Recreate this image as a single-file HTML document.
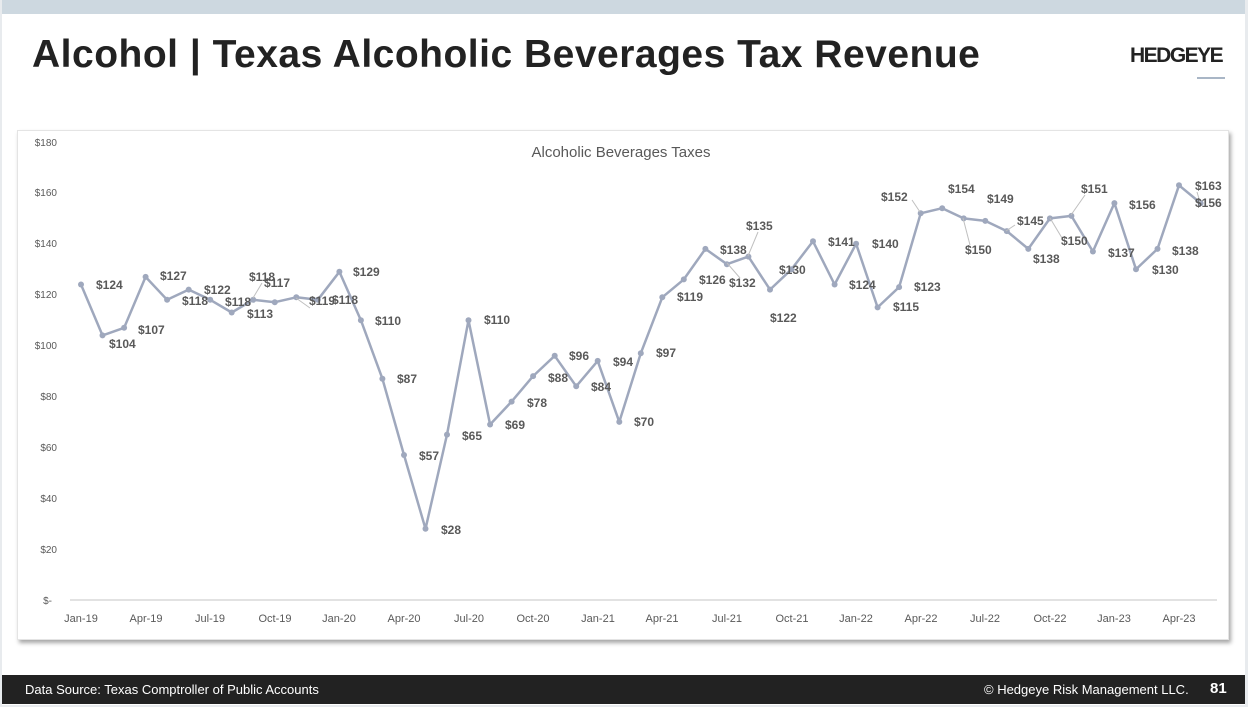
<!DOCTYPE html>
<html><head><meta charset="utf-8"><style>
body{margin:0;width:1248px;height:707px;background:#e8ebee;overflow:hidden;font-family:"Liberation Sans",sans-serif}
.page{position:absolute;left:2px;top:0;width:1243px;height:705px;background:#fff}
.topbar{position:absolute;left:2px;top:0;width:1243px;height:14px;background:#cdd8e0}
h1{position:absolute;left:32px;top:33px;margin:0;font-size:39px;font-weight:bold;color:#222;letter-spacing:0.5px}
.logo{position:absolute;left:1130px;top:44px;font-size:21px;font-weight:bold;color:#222;letter-spacing:-1.5px}
.logoline{position:absolute;left:1197px;top:77px;width:28px;height:2px;background:#a9b6c6}
.chart{position:absolute;left:17px;top:130px;width:1210px;height:508px;background:#fff;box-shadow:2px 3px 4px rgba(0,0,0,0.35);border:1px solid #e4e4e4}
.footer{position:absolute;left:2px;top:675px;width:1243px;height:29px;background:#222;color:#fff;font-size:13px}
</style></head><body>
<div class="page"></div><div class="topbar"></div>
<h1>Alcohol | Texas Alcoholic Beverages Tax Revenue</h1>
<div class="logo">HEDGEYE</div><div class="logoline"></div>
<div class="chart"></div>
<svg style="position:absolute;left:0;top:0" width="1248" height="707" font-family="Liberation Sans, sans-serif">
<text x="621" y="157" font-size="15" fill="#595959" text-anchor="middle">Alcoholic Beverages Taxes</text>
<g font-size="10" fill="#595959" text-anchor="end">
<text x="57" y="146">$180</text><text x="57" y="196">$160</text><text x="57" y="247">$140</text><text x="57" y="298">$120</text><text x="57" y="349">$100</text><text x="57" y="400">$80</text><text x="57" y="451">$60</text><text x="57" y="502">$40</text><text x="57" y="553">$20</text><text x="52" y="604">$-</text>
</g>
<line x1="70" y1="600" x2="1217" y2="600" stroke="#d9d9d9" stroke-width="1.5"/>
<g font-size="11" fill="#595959" text-anchor="middle">
<text x="81" y="622">Jan-19</text><text x="146" y="622">Apr-19</text><text x="210" y="622">Jul-19</text><text x="275" y="622">Oct-19</text><text x="339" y="622">Jan-20</text><text x="404" y="622">Apr-20</text><text x="469" y="622">Jul-20</text><text x="533" y="622">Oct-20</text><text x="598" y="622">Jan-21</text><text x="662" y="622">Apr-21</text><text x="727" y="622">Jul-21</text><text x="792" y="622">Oct-21</text><text x="856" y="622">Jan-22</text><text x="921" y="622">Apr-22</text><text x="985" y="622">Jul-22</text><text x="1050" y="622">Oct-22</text><text x="1114" y="622">Jan-23</text><text x="1179" y="622">Apr-23</text>
</g>
<polyline fill="none" stroke="#9fa8bd" stroke-width="2.5" stroke-linejoin="round" points="81,284.5 102.5,335.4 124.1,327.8 145.6,276.9 167.1,299.8 188.7,289.6 210.2,299.8 231.7,312.5 253.2,299.8 274.8,302.2 296.3,297.3 317.8,299.8 339.4,271.8 360.9,320.2 382.4,378.7 404,455 425.5,528.8 447,434.6 468.5,320.2 490.1,424.5 511.6,401.6 533.1,376.1 554.7,355.8 576.2,386.3 597.7,360.9 619.3,421.9 640.8,353.2 662.3,297.3 683.8,279.4 705.4,248.9 726.9,264.2 748.4,256.6 770,289.6 791.5,269.3 813,241.3 834.6,284.5 856.1,243.8 877.6,307.4 899.1,287.1 920.7,213.3 942.2,208.2 963.7,218.4 985.3,220.9 1006.8,231.1 1028.3,248.9 1049.9,218.4 1071.4,215.9 1092.9,251.5 1114.4,203.1 1136,269.3 1157.5,248.9 1179,185.3 1200.6,203.1"/>
<g fill="#9fa8bd">
<circle cx="81" cy="284.5" r="3"/><circle cx="102.5" cy="335.4" r="3"/><circle cx="124.1" cy="327.8" r="3"/><circle cx="145.6" cy="276.9" r="3"/><circle cx="167.1" cy="299.8" r="3"/><circle cx="188.7" cy="289.6" r="3"/><circle cx="210.2" cy="299.8" r="3"/><circle cx="231.7" cy="312.5" r="3"/><circle cx="253.2" cy="299.8" r="3"/><circle cx="274.8" cy="302.2" r="3"/><circle cx="296.3" cy="297.3" r="3"/><circle cx="317.8" cy="299.8" r="3"/><circle cx="339.4" cy="271.8" r="3"/><circle cx="360.9" cy="320.2" r="3"/><circle cx="382.4" cy="378.7" r="3"/><circle cx="404" cy="455" r="3"/><circle cx="425.5" cy="528.8" r="3"/><circle cx="447" cy="434.6" r="3"/><circle cx="468.5" cy="320.2" r="3"/><circle cx="490.1" cy="424.5" r="3"/><circle cx="511.6" cy="401.6" r="3"/><circle cx="533.1" cy="376.1" r="3"/><circle cx="554.7" cy="355.8" r="3"/><circle cx="576.2" cy="386.3" r="3"/><circle cx="597.7" cy="360.9" r="3"/><circle cx="619.3" cy="421.9" r="3"/><circle cx="640.8" cy="353.2" r="3"/><circle cx="662.3" cy="297.3" r="3"/><circle cx="683.8" cy="279.4" r="3"/><circle cx="705.4" cy="248.9" r="3"/><circle cx="726.9" cy="264.2" r="3"/><circle cx="748.4" cy="256.6" r="3"/><circle cx="770" cy="289.6" r="3"/><circle cx="791.5" cy="269.3" r="3"/><circle cx="813" cy="241.3" r="3"/><circle cx="834.6" cy="284.5" r="3"/><circle cx="856.1" cy="243.8" r="3"/><circle cx="877.6" cy="307.4" r="3"/><circle cx="899.1" cy="287.1" r="3"/><circle cx="920.7" cy="213.3" r="3"/><circle cx="942.2" cy="208.2" r="3"/><circle cx="963.7" cy="218.4" r="3"/><circle cx="985.3" cy="220.9" r="3"/><circle cx="1006.8" cy="231.1" r="3"/><circle cx="1028.3" cy="248.9" r="3"/><circle cx="1049.9" cy="218.4" r="3"/><circle cx="1071.4" cy="215.9" r="3"/><circle cx="1092.9" cy="251.5" r="3"/><circle cx="1114.4" cy="203.1" r="3"/><circle cx="1136" cy="269.3" r="3"/><circle cx="1157.5" cy="248.9" r="3"/><circle cx="1179" cy="185.3" r="3"/><circle cx="1200.6" cy="203.1" r="3"/>
</g>
<g stroke="#bfbfbf" stroke-width="1">
<line x1="253" y1="298" x2="262" y2="283"/><line x1="296" y1="298" x2="310" y2="308"/><line x1="727" y1="263" x2="740" y2="278"/><line x1="748" y1="256" x2="758" y2="232"/><line x1="920" y1="212" x2="912" y2="200"/><line x1="1050" y1="218" x2="1062" y2="238"/><line x1="1071" y1="215" x2="1085" y2="195"/><line x1="1006" y1="231" x2="1015" y2="225"/><line x1="963" y1="218" x2="970" y2="245"/><line x1="1200" y1="202" x2="1197" y2="192"/>
</g>
<g font-size="12" font-weight="bold" fill="#595959" dominant-baseline="middle">
<text x="96" y="286">$124</text><text x="109" y="345">$104</text><text x="138" y="331">$107</text><text x="160" y="277">$127</text><text x="182" y="302">$118</text><text x="204" y="291">$122</text><text x="225" y="303">$118</text><text x="247" y="315">$113</text><text x="249" y="278">$118</text><text x="264" y="284">$117</text><text x="309" y="302">$119</text><text x="332" y="301">$118</text><text x="353" y="273">$129</text><text x="375" y="322">$110</text><text x="397" y="380">$87</text><text x="419" y="457">$57</text><text x="441" y="531">$28</text><text x="462" y="437">$65</text><text x="484" y="321">$110</text><text x="505" y="426">$69</text><text x="527" y="404">$78</text><text x="548" y="379">$88</text><text x="569" y="357">$96</text><text x="591" y="388">$84</text><text x="613" y="363">$94</text><text x="634" y="423">$70</text><text x="656" y="354">$97</text><text x="677" y="298">$119</text><text x="699" y="281">$126</text><text x="720" y="251">$138</text><text x="729" y="284">$132</text><text x="746" y="227">$135</text><text x="770" y="319">$122</text><text x="779" y="271">$130</text><text x="828" y="243">$141</text><text x="849" y="286">$124</text><text x="872" y="245">$140</text><text x="893" y="308">$115</text><text x="914" y="288">$123</text><text x="881" y="198">$152</text><text x="948" y="190">$154</text><text x="965" y="251">$150</text><text x="987" y="200">$149</text><text x="1017" y="222">$145</text><text x="1033" y="260">$138</text><text x="1061" y="242">$150</text><text x="1081" y="190">$151</text><text x="1108" y="254">$137</text><text x="1129" y="206">$156</text><text x="1152" y="271">$130</text><text x="1172" y="252">$138</text><text x="1195" y="187">$163</text><text x="1195" y="204">$156</text>
</g>
</svg>
<div class="footer"><span style="position:absolute;left:23px;top:7px">Data Source: Texas Comptroller of Public Accounts</span><span style="position:absolute;left:982px;top:7px">© Hedgeye Risk Management LLC.</span><span style="position:absolute;left:1208px;top:5px;font-size:15px;font-weight:bold">81</span></div>
</body></html>
